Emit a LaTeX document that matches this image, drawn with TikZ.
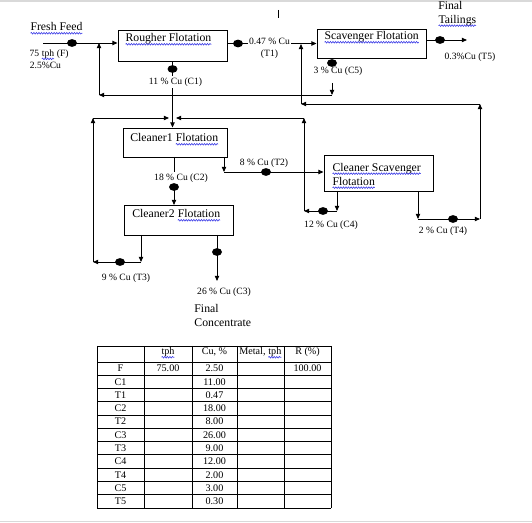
\documentclass[tikz,border=0pt]{standalone}
\usepackage{fontspec}
\setmainfont{Liberation Serif}
\usetikzlibrary{arrows.meta,shapes.geometric,decorations.pathmorphing}
\definecolor{squig}{RGB}{60,60,230}
\newcommand\spl[1]{\tikz[baseline=(spl_w.base)]{\node[inner sep=0pt, outer sep=0pt] (spl_w) {#1};
  \draw[squig, line width=0.45pt, decorate, decoration={snake, amplitude=0.6pt, segment length=1.9pt}]
    ([yshift=-1.7pt]spl_w.base west) -- ([yshift=-1.7pt]spl_w.base east);}}
\tikzset{
  box/.style={draw, inner sep=0pt},
  boxtext/.style={anchor=base west, inner sep=0pt, font=\fontsize{8.8}{10.5}\selectfont},
  lab/.style={inner sep=1pt, font=\fontsize{7.2}{9}\selectfont},
  cell/.style={anchor=base, inner sep=0pt, font=\fontsize{7.6}{9}\selectfont},
  dot/.style={ellipse, fill=black, inner sep=0pt, minimum width=7.5pt, minimum height=5.8pt},
  flow/.style={-{Triangle[length=3.8pt,width=3.2pt]}},
}
\begin{document}
\begin{tikzpicture}[x=0.75pt, y=-0.75pt, line width=0.7pt] % units are pixels
\useasboundingbox (0,0) rectangle (532,523);
\draw[gray!30, line width=1.2pt] (0,1) -- (532,1);
\draw[gray!30, line width=1.2pt] (0,521.5) -- (532,521.5);
\draw (278,10) -- (278,18);
\node[box, minimum width=81.75pt, minimum height=23.25pt] (P_rough) at (172.5,45.5) {};
\node[box, minimum width=81.75pt, minimum height=21.75pt] (P_scav) at (371.5,43.5) {};
\node[box, minimum width=78pt, minimum height=21.75pt] (P_cl1) at (175,142.5) {};
\node[box, minimum width=81.75pt, minimum height=22.5pt] (P_cl2) at (178.5,220) {};
\node[box, minimum width=81.75pt, minimum height=27pt] (P_clsc) at (378.5,173) {};
\node[boxtext] (T_rough) at (125,42) {\spl{Rougher Flotation}};
\node[boxtext] (T_scav) at (324,40) {\spl{Scavenger Flotation}};
\node[boxtext] (T_cl1) at (130,142) {Cleaner1 \spl{Flotation}};
\node[boxtext] (T_cl2) at (132,218) {Cleaner2 \spl{Flotation}};
\node[boxtext, align=left, anchor=north west] (T_clsc) at (332,163) {\spl{Cleaner Scavenger}\\\spl{Flotation}};
\coordinate (F_0) at (43,43);
\coordinate (F_1) at (99,43);
\coordinate (C5_m) at (332,83);
\coordinate (C5_a) at (332,95);
\coordinate (C5_b) at (99,95);
\coordinate (T5_e) at (467,40);
\coordinate (C2_a) at (174,157);
\coordinate (C2_b) at (174,205);
\coordinate (T2_a) at (224,157);
\coordinate (T2_b) at (224,172);
\coordinate (C4_a) at (337,191);
\coordinate (C4_b) at (337,211);
\coordinate (C4_c) at (304,211);
\coordinate (C4_d) at (304,118);
\coordinate (C4_e) at (176,118);
\coordinate (T3_a) at (141,235);
\coordinate (T3_b) at (141,262);
\coordinate (T3_c) at (93,262);
\coordinate (T3_d) at (93,118);
\coordinate (T3_e) at (169,118);
\coordinate (T4_a) at (418,191);
\coordinate (T4_b) at (418,219);
\coordinate (T4_c) at (480,219);
\coordinate (T4_d) at (480,104);
\coordinate (T4_e) at (301,104);
\coordinate (T4_f) at (301,44);
\coordinate (C3_a) at (217,235);
\coordinate (C3_b) at (217,281);
\draw[flow] (F_0) -- (P_rough.west |- F_0);
\draw[flow] (P_rough.east |- P_scav.west) -- (P_scav.west);
\draw[flow] (P_scav.east |- T5_e) -- (T5_e);
\draw[flow] (C5_m) -- (C5_a);
\draw[flow] (C5_a) -- (C5_b);
\draw[flow] (C5_b) -- (F_1);
\draw[flow] (P_rough.south) -- (P_rough.south |- P_cl1.north);
\draw[flow] (C2_a) -- (C2_b);
\draw[flow] (T2_a) -- (T2_b);
\draw[flow] (T2_b) -- (T2_b -| P_clsc.west);
\draw[flow] (C4_a) -- (C4_b);
\draw[flow] (C4_b) -- (C4_c);
\draw[flow] (C4_c) -- (C4_d);
\draw[flow] (C4_d) -- (C4_e);
\draw[flow] (T3_a) -- (T3_b);
\draw[flow] (T3_b) -- (T3_c);
\draw[flow] (T3_c) -- (T3_d);
\draw[flow] (T3_d) -- (T3_e);
\draw[flow] (T4_a) -- (T4_b);
\draw[flow] (T4_b) -- (T4_c);
\draw[flow] (T4_c) -- (T4_d);
\draw[flow] (T4_d) -- (T4_e);
\draw[flow] (T4_e) -- (T4_f);
\draw[flow] (C3_a) -- (C3_b);
\node[boxtext] (T_feed) at (30,31) {\spl{Fresh Feed}};
\node[lab, anchor=west] (L_F) at (28,55) {75 \spl{tph} (F)};
\node[lab, anchor=west] (L_Fcu) at (28,65) {2.5\%Cu};
\node[lab, fill=white, align=center] (L_T1) at (269.5,48.5) {0.47 \% Cu\\(T1)};
\node[boxtext, align=left, anchor=north west] (T_tail) at (438,1) {Final\\\spl{Tailings}};
\node[lab] (L_T5) at (470,57) {0.3\%Cu (T5)};
\node[lab, fill=white] (L_C5) at (338,71) {3 \% Cu (C5)};
\node[lab, fill=white] (L_C1) at (175.5,82) {11 \% Cu (C1)};
\node[lab, fill=white] (L_C2) at (181,178) {18 \% Cu (C2)};
\node[lab] (L_T2) at (264,163) {8 \% Cu (T2)};
\node[lab] (L_C4) at (331,225) {12 \% Cu (C4)};
\node[lab] (L_T4) at (443,231) {2 \% Cu (T4)};
\node[lab] (L_T3) at (126,278) {9 \% Cu (T3)};
\node[lab] (L_C3) at (224,292) {26 \% Cu (C3)};
\node[boxtext, align=left, anchor=north west] (T_conc) at (194,304) {Final\\Concentrate};
\node[dot] (D_F) at (72,43) {};
\node[dot] (D_T1) at (238,43.5) {};
\node[dot] (D_T5) at (440,40) {};
\node[dot] (D_C5) at (332,63) {};
\node[dot] (D_C1) at (172.5,69) {};
\node[dot] (D_C2) at (174,187) {};
\node[dot] (D_T2) at (266,172) {};
\node[dot] (D_C4) at (323,211) {};
\node[dot] (D_T4) at (453,219) {};
\node[dot] (D_T3) at (120,262) {};
\node[dot] (D_C3) at (217,252) {};
% balance table
\foreach \x in {97,144,192,237,284,331} \draw (\x,346) -- (\x,508);
\draw (97,346) -- (331,346);
\foreach \k in {0,...,11} \draw (97,{362+13.27*\k}) -- (331,{362+13.27*\k});
\node[cell] (H_tph) at (168,355) {\spl{tph}};
\node[cell] (H_cu) at (214.5,355) {Cu, \%};
\node[cell] (H_met) at (260.5,355) {Metal, \spl{tph}};
\node[cell] (H_r) at (307.5,355) {R (\%)};
\foreach \n/\cu [count=\k from 0] in {F/2.50,C1/11.00,T1/0.47,C2/18.00,T2/8.00,C3/26.00,T3/9.00,C4/12.00,T4/2.00,C5/3.00,T5/0.30}
{
  \node[cell] (S_\n) at (120.5,{371.9+13.27*\k}) {\n};
  \node[cell] (V_\n) at (214.5,{371.9+13.27*\k}) {\cu};
}
\node[cell] (V_Ft) at (168,371.9) {75.00};
\node[cell] (V_Fr) at (307.5,371.9) {100.00};
\end{tikzpicture}
\end{document}
